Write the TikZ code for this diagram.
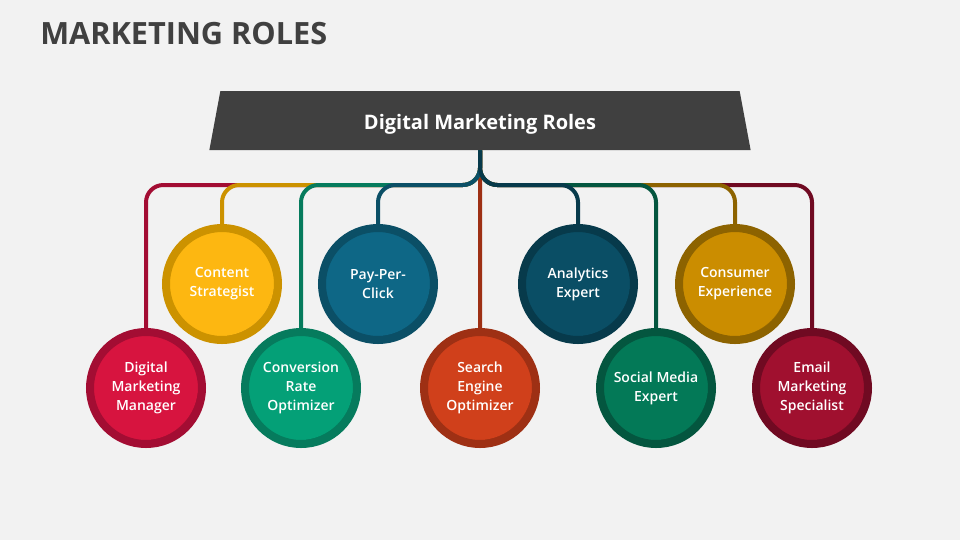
\documentclass[tikz,border=0pt]{standalone}
\usepackage{fontspec}
\setmainfont{Open Sans}
\IfFontExistsTF{Open Sans SemiBold}
  {\newfontfamily\semifont{Open Sans SemiBold}}
  {\IfFontExistsTF{Open Sans Semibold}
    {\newfontfamily\semifont{Open Sans Semibold}}
    {\newcommand\semifont{\bfseries}}}
\usepackage{tikz}
\usetikzlibrary{shapes.geometric}
\definecolor{bgpanel}{HTML}{F2F2F2}
\definecolor{titlegray}{HTML}{404040}
\definecolor{dmmIn}{HTML}{D7143F}
\definecolor{dmmRing}{HTML}{A30D33}
\definecolor{csIn}{HTML}{FDB711}
\definecolor{csRing}{HTML}{CC9200}
\definecolor{croIn}{HTML}{04A077}
\definecolor{croRing}{HTML}{067B5D}
\definecolor{ppcIn}{HTML}{0E6786}
\definecolor{ppcRing}{HTML}{0B4F66}
\definecolor{seoIn}{HTML}{D0401B}
\definecolor{seoRing}{HTML}{9E3014}
\definecolor{anIn}{HTML}{0A4E65}
\definecolor{anRing}{HTML}{073A4B}
\definecolor{smIn}{HTML}{037957}
\definecolor{smRing}{HTML}{04563F}
\definecolor{cxIn}{HTML}{CB8D00}
\definecolor{cxRing}{HTML}{8D6300}
\definecolor{emIn}{HTML}{A0102F}
\definecolor{emRing}{HTML}{700A22}

\begin{document}
\begin{tikzpicture}[
  x=0.75pt, y=-0.75pt,
  role/.style n args={2}{
    circle, fill=#1, draw=#2, line width=6pt,
    minimum size=84pt, inner sep=0pt,
    align=center, text=white,
    font=\fontsize{10.5}{14.25}\selectfont\semifont,
    path picture={
      \fill[black, opacity=0.2] (path picture bounding box.center) circle (42pt);
      \fill[#1] ([shift={(-1.8pt,1.8pt)}]path picture bounding box.center) circle (41pt);
    }
  },
  link/.style={draw=#1, line width=3pt, rounded corners=13pt}
]
\fill[bgpanel] (0,0) rectangle (960,540);
\useasboundingbox (0,0) rectangle (960,540);

\node[anchor=west, inner sep=0pt, text=titlegray,
  font=\fontsize{23}{27}\selectfont\bfseries] (title) at (40,34) {MARKETING ROLES};

\node[trapezium, trapezium angle=77, trapezium stretches=true,
  minimum width=407pt, minimum height=44.25pt, fill=titlegray, text=white,
  text depth=0pt, font=\fontsize{15}{18}\selectfont\bfseries]
  (banner) at (480,120.5) {\raisebox{-1.5pt}{Digital Marketing Roles}};

% top row
\node[role={csIn}{csRing}]   (cs) at (222,284) {Content\\Strategist};
\node[role={ppcIn}{ppcRing}] (ppc) at (378,284) {Pay-Per-\\Click};
\node[role={anIn}{anRing}]   (an) at (578,284) {Analytics\\Expert};
\node[role={cxIn}{cxRing}]   (cx) at (735,284) {Consumer\\Experience};
% bottom row
\node[role={dmmIn}{dmmRing}] (dmm) at (146,388) {Digital\\Marketing\\Manager};
\node[role={croIn}{croRing}] (cro) at (301,388) {Conversion\\Rate\\Optimizer};
\node[role={seoIn}{seoRing}] (seo) at (480,388) {Search\\Engine\\Optimizer};
\node[role={smIn}{smRing}]   (sm) at (656,388) {Social Media\\Expert};
\node[role={emIn}{emRing}]   (em) at (812,388) {Email\\Marketing\\Specialist};

% connectors, outer ones first
\draw[link=seoRing] (seo.north) -- (banner.south);
\draw[link=dmmRing] (dmm.north) |- (banner.south |- 0,185) -- (banner.south);
\draw[link=emRing]  (em.north)  |- (banner.south |- 0,185) -- (banner.south);
\draw[link=csRing]  (cs.north)  |- (banner.south |- 0,185) -- (banner.south);
\draw[link=cxRing]  (cx.north)  |- (banner.south |- 0,185) -- (banner.south);
\draw[link=croRing] (cro.north) |- (banner.south |- 0,185) -- (banner.south);
\draw[link=smRing]  (sm.north)  |- (banner.south |- 0,185) -- (banner.south);
\draw[link=ppcRing] (ppc.north) |- (banner.south |- 0,185) -- (banner.south);
\draw[link=anRing]  (an.north)  |- (banner.south |- 0,185) -- (banner.south);
\end{tikzpicture}
\end{document}
